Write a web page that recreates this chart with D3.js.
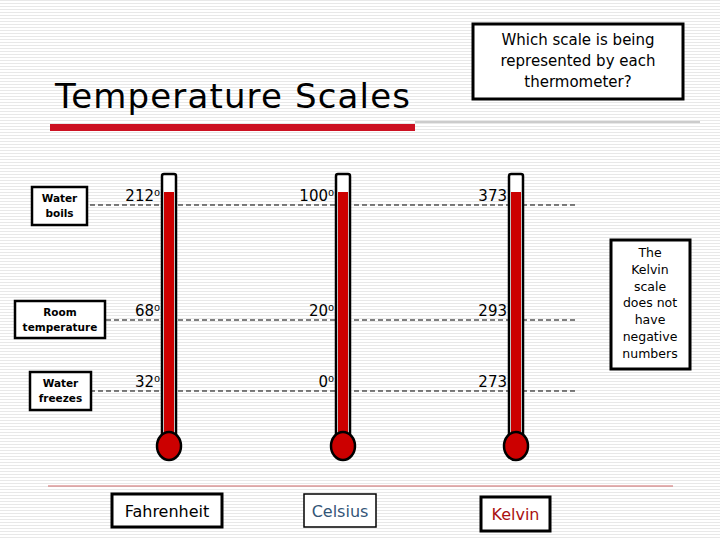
<!DOCTYPE html><html><head><meta charset="utf-8"><script src="https://cdn.jsdelivr.net/npm/d3@7"></script>
<style>body{margin:0;background:#fff}svg{display:block}</style></head><body><svg id="c" width="720" height="540"></svg>
<script>
const events=["Water boils","Room temperature","Water freezes"];
const scales=["Fahrenheit","Celsius","Kelvin"];
const fahrenheit=["212⁰","68⁰","32⁰"];
const celsius=["100⁰","20⁰","0⁰"];
const kelvin=["373","293","273"];
const labels=[fahrenheit,celsius,kelvin];
const svg=d3.select("#c");
const defs=svg.append("defs");
const p=defs.append("pattern").attr("id","st").attr("width",4).attr("height",3).attr("patternUnits","userSpaceOnUse");
p.append("rect").attr("width",4).attr("height",1).attr("fill","#e8e8e8");
svg.append("rect").attr("width",720).attr("height",540).attr("fill","url(#st)");
const y=d3.scaleOrdinal().domain(events).range([205,320,391]);
svg.append("text").attr("x",55).attr("y",108).attr("font-family","'DejaVu Sans',sans-serif").attr("font-size",34).attr("textLength",355).attr("lengthAdjust","spacing").text("Temperature Scales");
svg.append("rect").attr("x",50).attr("y",124).attr("width",365).attr("height",7).attr("fill","#cc1122");
svg.append("line").attr("x1",415).attr("x2",700).attr("y1",122).attr("y2",122).attr("stroke","#999");
svg.append("line").attr("x1",48).attr("x2",673).attr("y1",486).attr("y2",486).attr("stroke","#c66").attr("stroke-width",1);
svg.append("rect").attr("x",473).attr("y",24).attr("width",210).attr("height",75).attr("fill","#fff").attr("stroke","#000").attr("stroke-width",3);
["Which scale is being","represented by each","thermometer?"].forEach((t,i)=>svg.append("text").attr("x",578).attr("y",45+i*21).attr("text-anchor","middle").attr("font-family","'DejaVu Sans',sans-serif").attr("font-size",15).text(t));
events.forEach(e=>svg.append("line").attr("x1",90).attr("x2",577).attr("y1",y(e)).attr("y2",y(e)).attr("stroke","#000").attr("stroke-dasharray","5,3"));
const boxes=[[32,187,55,38,["Water","boils"]],[15,301,90,37,["Room","temperature"]],[30,372,61,38,["Water","freezes"]]];
boxes.forEach(b=>{svg.append("rect").attr("x",b[0]).attr("y",b[1]).attr("width",b[2]).attr("height",b[3]).attr("fill","#fff").attr("stroke","#000").attr("stroke-width",2.5);
b[4].forEach((t,i)=>svg.append("text").attr("x",b[0]+b[2]/2).attr("y",b[1]+15+i*15).attr("text-anchor","middle").attr("font-family","'DejaVu Sans',sans-serif").attr("font-weight","bold").attr("font-size",10.5).text(t));});
const tx={Fahrenheit:169,Celsius:343,Kelvin:516};
scales.forEach((s,si)=>{const cx=tx[s];
 const g=svg.append("g");
 g.append("rect").attr("x",cx-7).attr("y",174).attr("width",14).attr("height",270).attr("rx",2).attr("fill","#fff").attr("stroke","#000").attr("stroke-width",2.5);
 g.append("rect").attr("x",cx-5).attr("y",192).attr("width",10).attr("height",250).attr("fill","#cc0000");
 g.append("ellipse").attr("cx",cx).attr("cy",446).attr("rx",12).attr("ry",14).attr("fill","#cc0000").attr("stroke","#000").attr("stroke-width",2.5);
 events.forEach((e,i)=>svg.append("text").attr("x",cx-9).attr("y",y(e)-4).attr("text-anchor","end").attr("font-family","'DejaVu Sans',sans-serif").attr("font-size",15).text(labels[si][i]));
});
const sb={Fahrenheit:[112,494,110,33,"#000"],Celsius:[304,494,72,33,"#335577"],Kelvin:[481,497,69,34,"#aa1111"]};
scales.forEach(s=>{const b=sb[s];svg.append("rect").attr("x",b[0]).attr("y",b[1]).attr("width",b[2]).attr("height",b[3]).attr("fill","#fff").attr("stroke","#000").attr("stroke-width",s=="Celsius"?1.5:3);
 svg.append("text").attr("x",b[0]+b[2]/2).attr("y",b[1]+23).attr("text-anchor","middle").attr("font-family","'DejaVu Sans',sans-serif").attr("font-size",16).attr("fill",b[4]).text(s);});
svg.append("rect").attr("x",611).attr("y",240).attr("width",79).attr("height",129).attr("fill","#fff").attr("stroke","#000").attr("stroke-width",3);
["The","Kelvin","scale","does not","have","negative","numbers"].forEach((t,i)=>svg.append("text").attr("x",650).attr("y",257+i*16.8).attr("text-anchor","middle").attr("font-family","'DejaVu Sans',sans-serif").attr("font-size",12.5).text(t));
</script></body></html>
